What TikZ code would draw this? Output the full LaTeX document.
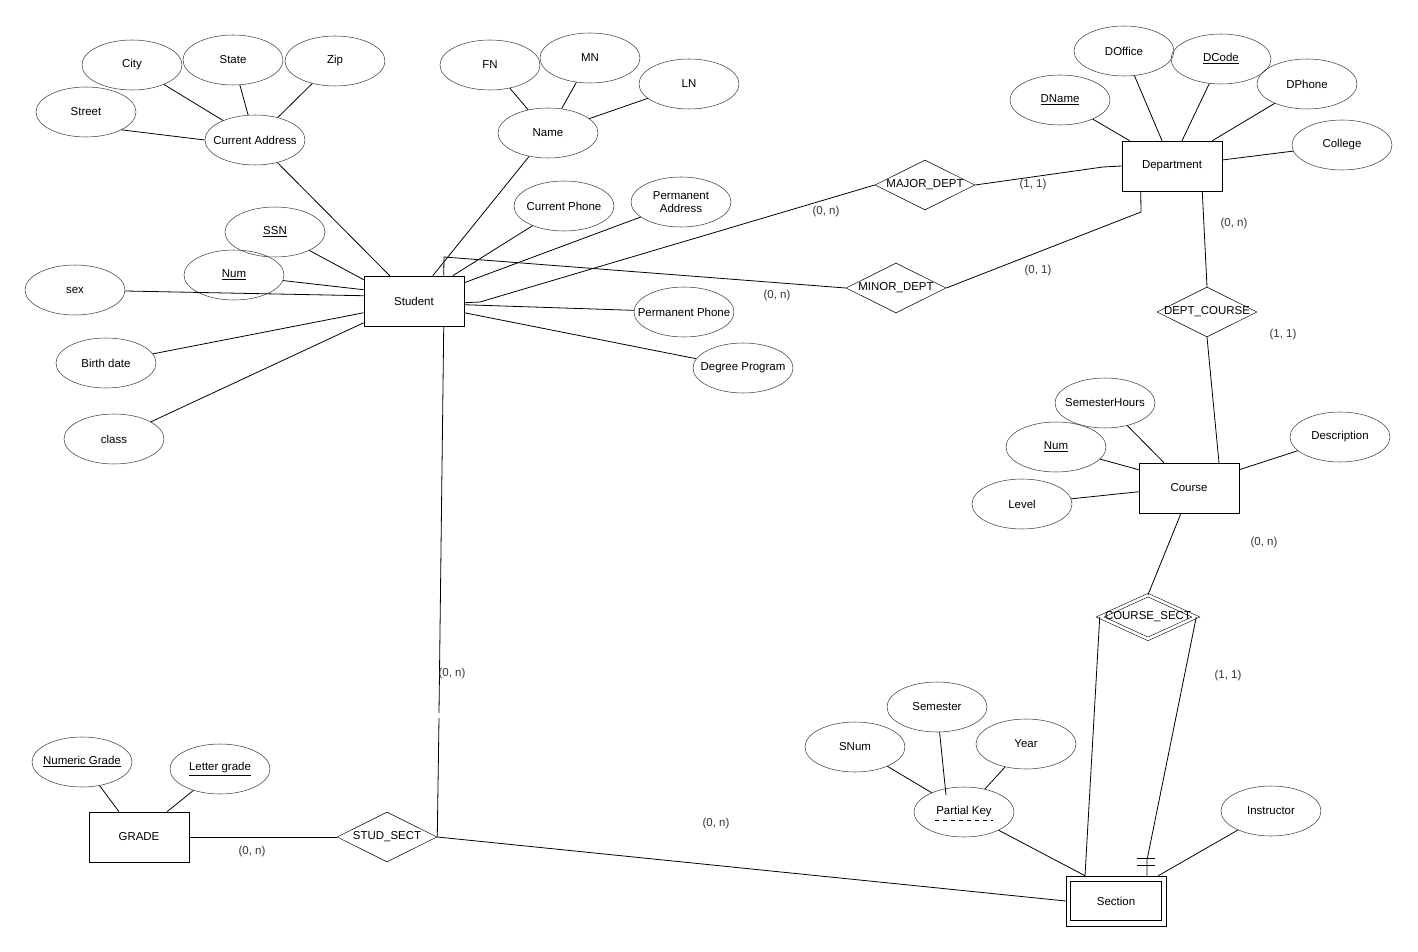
\documentclass[tikz,border=0pt]{standalone}
\usepackage{fontspec}
\setmainfont{Liberation Sans}
\usetikzlibrary{shapes.geometric}
\newcommand\zb[1]{\makebox[0pt]{#1}}
\begin{document}
\begin{tikzpicture}[x=0.75pt,y=-0.75pt,font=\fontsize{8.6}{10}\selectfont,
 attr/.style={draw=black!75,ellipse,minimum width=75pt,minimum height=37.5pt,inner sep=0pt},
 ent/.style={draw,minimum width=75pt,minimum height=37.5pt,inner sep=0pt},
 rel/.style={draw,diamond,aspect=2,minimum width=75pt,minimum height=37.5pt,inner sep=0pt},
 card/.style={text=black!80},
 ln/.style={draw,line width=0.6pt}]
\useasboundingbox (0,0) rectangle (1418,952);
% attributes
\node[attr] (city) at (132,65) {City};
\node[attr] (state) at (233,60) {State};
\node[attr] (zip) at (335,61) {Zip};
\node[attr] (street) at (86,112) {Street};
\node[attr] (caddr) at (255,140) {\zb{Current Address}};
\node[attr] (fn) at (490,65) {FN};
\node[attr] (mn) at (590,58) {MN};
\node[attr] (lname) at (689,84) {LN};
\node[attr] (name) at (548,133) {Name};
\node[attr] (cphone) at (564,206) {\zb{Current Phone}};
\node[attr,align=center] (paddr) at (681,202) {Permanent\\Address};
\node[attr] (ssn) at (275,232) {\underline{SSN}};
\node[attr] (num) at (234,275) {\underline{Num}};
\node[attr] (sex) at (75,290) {sex};
\node[attr] (bdate) at (106,363) {Birth date};
\node[attr] (class) at (114,439) {class};
\node[attr] (pphone) at (684,312) {\zb{Permanent Phone}};
\node[attr] (degree) at (743,368) {\zb{Degree Program}};
\node[attr] (doffice) at (1124,51) {DOffice};
\node[attr] (dcode) at (1221,59) {\underline{DCode}};
\node[attr] (dphone) at (1307,84) {DPhone};
\node[attr] (dname) at (1060,100) {\underline{DName}};
\node[attr] (college) at (1342,145) {College};
\node[attr] (semh) at (1105,403) {\zb{SemesterHours}};
\node[attr] (cnum) at (1056,447) {\underline{Num}};
\node[attr] (desc) at (1340,437) {Description};
\node[attr] (level) at (1022,504) {Level};
\node[attr] (semester) at (937,707) {Semester};
\node[attr] (year) at (1026,744) {Year};
\node[attr] (snum) at (855,747) {SNum};
\node[attr] (pkey) at (964,812) {Partial Key};
\draw[dashed,line width=0.5pt] (935,820) -- (993,820);
\node[attr] (instr) at (1271,811) {Instructor};
\node[attr] (ngrade) at (82,762) {\zb{\underline{Numeric Grade}}};
\node[attr] (lgrade) at (220,769) {\underline{Letter grade}};
% entities
\node[ent] (student) at (414,301) {Student};
\node[ent] (dept) at (1172,166) {Department};
\node[ent] (course) at (1189,488) {Course};
\node[ent] (grade) at (139,837) {GRADE};
\node[ent] (section) at (1116,901) {};
\node[ent,minimum width=68pt,minimum height=29pt] (sectin) at (1116,901) {Section};
% relationships
\node[rel] (major) at (925,185) {\zb{MAJOR\_DEPT}};
\node[rel] (minor) at (896,288) {\zb{MINOR\_DEPT}};
\node[rel] (dcourse) at (1207,312) {\zb{DEPT\_COURSE}};
\node[rel,double,double distance=2pt,minimum width=72pt,minimum height=33pt] (csect) at (1148,617) {\zb{COURSE\_SECT}};
\node[rel] (ssect) at (387,837) {\zb{STUD\_SECT}};
% lines
\draw[ln] (city) -- (caddr);
\draw[ln] (state) -- (caddr);
\draw[ln] (zip) -- (caddr);
\draw[ln] (street.south east) -- (caddr.west);
\draw[ln] (caddr) -- ([shift={(26,0)}]student.north west);
\draw[ln] (fn) -- (name);
\draw[ln] (mn) -- (name);
\draw[ln] (lname) -- (name);
\draw[ln] (name) -- ([shift={(69,0)}]student.north west);
\draw[ln] (cphone) -- ([shift={(89,0)}]student.north west);
\draw[ln] (paddr) -- ([shift={(0,7)}]student.north east);
\draw[ln] (ssn) -- ([shift={(0,4)}]student.north west);
\draw[ln] (num) -- ([shift={(0,14)}]student.north west);
\draw[ln] (sex) -- ([shift={(0,20)}]student.north west);
\draw[ln] (bdate) -- ([shift={(0,37)}]student.north west);
\draw[ln] (class) -- ([shift={(0,47)}]student.north west);
\draw[ln] (pphone) -- ([shift={(0,29)}]student.north east);
\draw[ln] (degree) -- ([shift={(0,37)}]student.north east);
\draw[ln] ([shift={(0,27)}]student.north east) -- (480,302) -- (major.west);
\draw[ln] (major.east) -- (1103,167) -- (dept.west);
\draw[ln] ([shift={(80,0)}]student.north west) -- (444,257) -- (minor.west);
\draw[ln] (minor.east) -- (1141,212) -- ([shift={(19,0)}]dept.south west);
\draw[ln] ([shift={(-20,0)}]dept.south east) -- (dcourse.north);
\draw[ln] (doffice) -- ([shift={(-10,0)}]dept.north);
\draw[ln] (dcode) -- ([shift={(10,0)}]dept.north);
\draw[ln] (dphone) -- ([shift={(-10,0)}]dept.north east);
\draw[ln] (dname) -- ([shift={(8,0)}]dept.north west);
\draw[ln] (college) -- ([shift={(0,-6)}]dept.east);
\draw[ln] (dcourse.south) -- ([shift={(30,0)}]course.north);
\draw[ln] (semh) -- ([shift={(-25,0)}]course.north);
\draw[ln] (cnum) -- ([shift={(0,7)}]course.north west);
\draw[ln] (level) -- ([shift={(0,29)}]course.north west);
\draw[ln] (desc) -- ([shift={(0,7)}]course.north east);
\draw[ln] ([shift={(-8,0)}]course.south) -- (csect.north);
\draw[ln] (csect.west) -- ([shift={(-31,0)}]section.north);
\draw[ln] (csect.east) -- (1147,860) -- ([shift={(31,0)}]section.north);
\draw[ln] (1137,858) -- (1155,858) (1137,865) -- (1155,865);
\draw[ln] (pkey) -- ([shift={(-31,0)}]section.north);
\draw[ln] (instr) -- ([shift={(-8,0)}]section.north east);
\draw[ln] (snum) -- (pkey);
\draw[ln] (semester) -- (946,795);
\draw[ln] (year) -- (pkey);
\draw[ln] ([shift={(80,0)}]student.south west) -- (439,713);
\draw[ln] (439,718) -- (ssect.east);
\draw[ln] (ssect.east) -- (section.west);
\draw[ln] (grade) -- (ssect);
\draw[ln] (ngrade) -- ([shift={(-20,0)}]grade.north);
\draw[ln] (lgrade) -- ([shift={(28,0)}]grade.north);
% cardinalities
\node[card] at (826,212) {(0, n)};
\node[card] at (1033,185) {(1, 1)};
\node[card] at (1038,271) {(0, 1)};
\node[card] at (777,296) {(0, n)};
\node[card] at (1234,224) {(0, n)};
\node[card] at (1283,335) {(1, 1)};
\node[card] at (1264,543) {(0, n)};
\node[card] at (1228,676) {(1, 1)};
\node[card] at (452,674) {(0, n)};
\node[card] at (716,824) {(0, n)};
\node[card] at (252,852) {(0, n)};
\end{tikzpicture}
\end{document}
